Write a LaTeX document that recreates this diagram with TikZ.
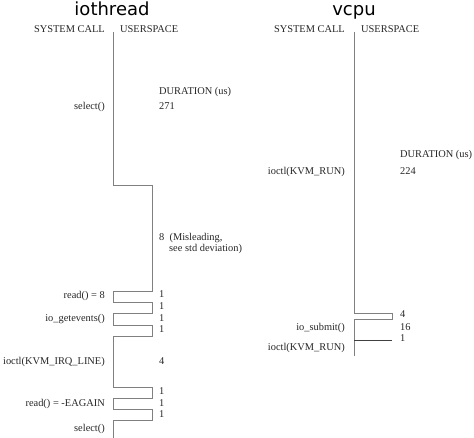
\documentclass[tikz,border=0pt]{standalone}
\usepackage{fontspec}
\setmainfont{Liberation Serif}
\newfontfamily\titlefont{DejaVu Sans}
\begin{document}
\begin{tikzpicture}[x=1pt,y=-1pt,
  lbl/.style={inner sep=0pt,font=\fontsize{10.4}{12}\selectfont,text=black!85},
  lr/.style={lbl,anchor=mid east},
  ll/.style={lbl,anchor=mid west},
  ttl/.style={inner sep=0pt,font=\titlefont\fontsize{18}{20}\selectfont,anchor=base},
  tl/.style={draw=black!50,line width=0.7pt},
  dk/.style={draw=black!75,line width=0.9pt}]
\useasboundingbox (0,0) rectangle (474,438);
% titles
\node[ttl] (t1) at (112,15.5) {iothread};
\node[ttl] (t2) at (354,15.5) {vcpu};
% headers
\node[lr] (sc1) at (105,30) {SYSTEM CALL};
\node[ll] (us1) at (120,30) {USERSPACE};
\node[lr] (sc2) at (345,30) {SYSTEM CALL};
\node[ll] (us2) at (361,30) {USERSPACE};
% left timeline
\draw[tl] (113,32) -- (113,185.5) -- (152,185.5) -- (152,291) -- (113,291) -- (113,302)
  -- (152,302) -- (152,313.5) -- (113,313.5) -- (113,325) -- (152,325) -- (152,336.5)
  -- (113,336.5) -- (113,387.5) -- (152,387.5) -- (152,398.5) -- (113,398.5) -- (113,409.5)
  -- (152,409.5) -- (152,420.5) -- (113,420.5) -- (113,438);
% left labels
\node[ll] (dur1) at (159,92) {DURATION (us)};
\node[lr] (sel1) at (105,107) {select()};
\node[ll] (n271) at (159,107) {271};
\node[ll] (n8) at (159,238) {8\ \ (Misleading,};
\node[ll] (n8b) at (169,249.5) {see std deviation)};
\node[lr] (rd8) at (105,296) {read() = 8};
\node[ll] (a1) at (159,295.5) {1};
\node[ll] (a2) at (159,307) {1};
\node[lr] (iog) at (105,319) {io\_getevents()};
\node[ll] (a3) at (159,319) {1};
\node[ll] (a4) at (159,330.5) {1};
\node[lr] (irq) at (105,362) {ioctl(KVM\_IRQ\_LINE)};
\node[ll] (a5) at (159,362) {4};
\node[ll] (a6) at (159,392.5) {1};
\node[lr] (rdeag) at (105,404) {read() = -EAGAIN};
\node[ll] (a7) at (159,404) {1};
\node[ll] (a8) at (159,415.5) {1};
\node[lr] (sel2) at (105,429) {select()};
% right timeline
\draw[tl] (354,32) -- (354,313) -- (392,313) -- (392,319) -- (354,319) -- (354,356);
\draw[dk] (354,340) -- (392,340);
% right labels
\node[ll] (dur2) at (400,155) {DURATION (us)};
\node[lr] (kvm1) at (345,172) {ioctl(KVM\_RUN)};
\node[ll] (n224) at (400,172) {224};
\node[ll] (b1) at (400,315.5) {4};
\node[lr] (ios) at (345,328.5) {io\_submit()};
\node[ll] (b2) at (400,328.5) {16};
\node[ll] (b3) at (400,339.5) {1};
\node[lr] (kvm2) at (345,348) {ioctl(KVM\_RUN)};
\end{tikzpicture}
\end{document}
